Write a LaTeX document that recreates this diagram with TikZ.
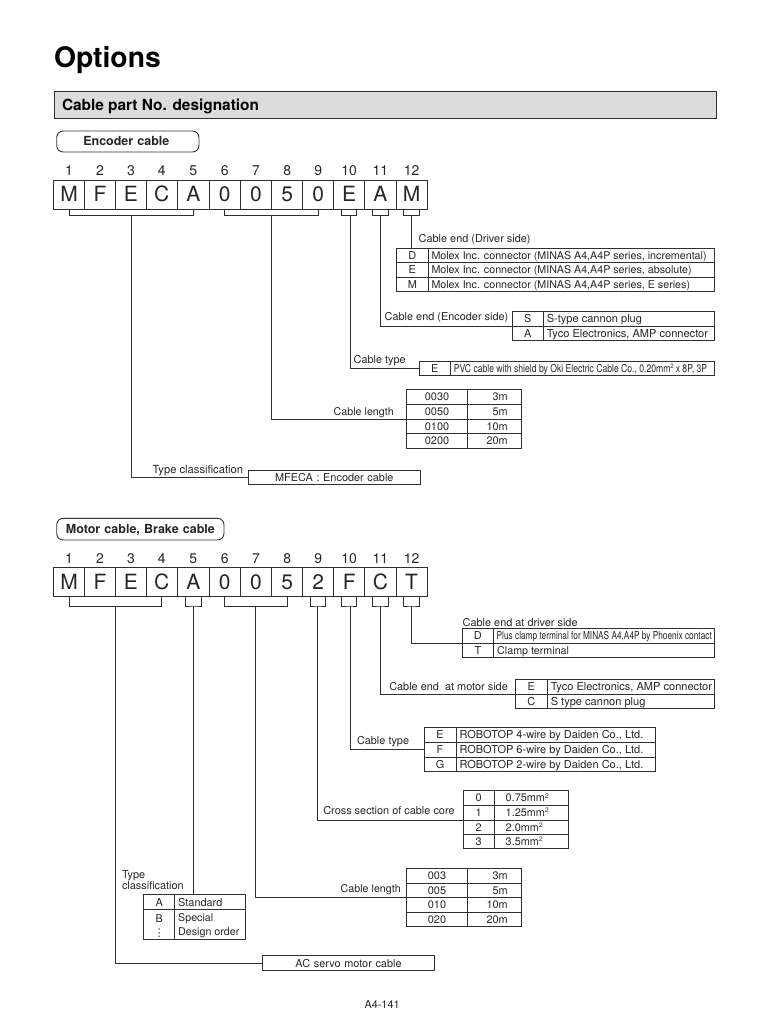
\documentclass[tikz,border=0pt]{standalone}
\usepackage{fontspec}
\usetikzlibrary{calc}
\setmainfont{TeX Gyre Heros}
\newfontfamily\symfont{DejaVu Sans}
\definecolor{ink}{HTML}{262626}
\definecolor{rule}{HTML}{303030}
\definecolor{hdr}{HTML}{DCDCDC}
\newcommand{\fs}[1]{\fontsize{#1}{#1}\selectfont}
\tikzset{
 cellst/.style={draw=rule,line width=0.9pt,rectangle,outer sep=0pt,inner ysep=0pt,inner xsep=3.5pt,text=ink,font=\fs{10.9},text height=7.7pt,text depth=0pt},
 ctr/.style={align=center},
 lft/.style={align=flush left},
 rgt/.style={align=flush right},
 free/.style={anchor=base west,inner sep=0pt,outer sep=0pt,text=ink,font=\fs{10.9}},
 wire/.style={draw=rule,line width=0.95pt},
 numlab/.style={inner sep=0pt,anchor=base,text=ink,font=\fs{14}},
 digit/.style={ctr,font=\fs{21},text height=14pt},
 pill/.style={rounded corners=6.5pt,font=\bfseries\fs{12.5},text height=9pt},
 molex/.style={lft,font=\fs{10.7}},
 tyco/.style={lft,font=\fs{11.05}},
 robo/.style={lft,font=\fs{11}},
 twolines/.style={text height=,text depth=,font=\fontsize{10.7}{14}\selectfont}
}
\newcommand{\cellbox}[7]{%
 \pgfmathsetmacro\cw{#3-#2-7}\pgfmathsetmacro\ch{#5-#4}%
 \pgfmathsetmacro\cx{(#2+#3)/2}\pgfmathsetmacro\cy{(#4+#5)/2}%
 \node[cellst,text width=\cw pt,minimum height=\ch pt,#6] (#1) at (\cx,\cy) {#7};}
\newcommand{\squeeze}[2]{\scalebox{#1}[1]{#2}}
\newcommand{\smallsq}{\raisebox{3.6pt}{\fs{6.6}2}}
\begin{document}
\begin{tikzpicture}[x=1pt,y=-1pt]
\useasboundingbox (0,0) rectangle (768,1024);
\node[free,font=\bfseries\fs{28.3},text=black] (title) at (54,67.6) {Options};
\cellbox{hd}{54.3}{716}{91.3}{118.7}{lft,fill=hdr,text=black,font=\bfseries\fs{15.4},text height=10.5pt}{\hspace{4.2pt}Cable part No. designation}
\cellbox{enc}{56.7}{199}{131}{152}{pill,ctr}{\hspace*{-3pt}Encoder cable}
\cellbox{mot}{56.7}{224}{518.3}{540}{pill,ctr}{Motor cable, Brake cable}

% encoder digits
\foreach \i/\a/\b/\t in {1/53.5/84.5/M,2/84.5/115.5/F,3/115.5/146.3/E,4/146.3/177.3/C,5/177.3/209.3/A,6/209.3/240.3/0,7/240.3/271.7/0,8/271.7/302.7/5,9/302.7/333.7/0,10/333.7/364.7/E,11/364.7/396/A,12/396/427.3/M}{
 \cellbox{d\i}{\a}{\b}{180}{209.3}{digit}{\t}
 \node[numlab] (dn\i) at ($(d\i.north)+(0,-4)$) {\i};
}
% motor digits
\foreach \i/\a/\b/\t in {1/53.5/84.5/M,2/84.5/115.5/F,3/115.5/146.3/E,4/146.3/177.3/C,5/177.3/209.3/A,6/209.3/240.3/0,7/240.3/271.7/0,8/271.7/302.7/5,9/302.7/333.7/2,10/333.7/364.7/F,11/364.7/396/C,12/396/427.3/T}{
 \cellbox{m\i}{\a}{\b}{567.3}{596.7}{digit}{\t}
 \node[numlab] (mn\i) at ($(m\i.north)+(0,-3.4)$) {\i};
}

% encoder tables
\cellbox{dD}{396.7}{428}{248.3}{262.7}{ctr}{D}
\cellbox{dDt}{428}{714.3}{248.3}{262.7}{molex}{Molex Inc. connector (MINAS A4,A4P series, incremental)}
\cellbox{dE}{396.7}{428}{262.7}{277.3}{ctr}{E}
\cellbox{dEt}{428}{714.3}{262.7}{277.3}{molex}{Molex Inc. connector (MINAS A4,A4P series, absolute)}
\cellbox{dM}{396.7}{428}{277.3}{291.7}{ctr}{M}
\cellbox{dMt}{428}{714.3}{277.3}{291.7}{molex}{Molex Inc. connector (MINAS A4,A4P series, E series)}
\cellbox{eS}{512}{543.3}{311.7}{326}{ctr}{S}
\cellbox{eSt}{543.3}{714.3}{311.7}{326}{tyco}{S-type cannon plug}
\cellbox{eA}{512}{543.3}{326}{340.3}{ctr}{A}
\cellbox{eAt}{543.3}{714.3}{326}{340.3}{tyco}{\mbox{Tyco Electronics, AMP connector}}
\cellbox{tE}{419}{450.3}{361.3}{375.7}{ctr}{E}
\cellbox{tEt}{450.3}{714.3}{361.3}{375.7}{lft}{\squeeze{0.79}{PVC cable with shield by Oki Electric Cable Co., 0.20mm\smallsq{} x 8P, 3P}}
\foreach \n/\a/\b/\t/\v in {1/389.3/404.3/0030/3m,2/404.3/419/0050/5m,3/419/433.7/0100/10m,4/433.7/448.3/0200/20m}{
 \cellbox{la\n}{406.7}{467.3}{\a}{\b}{ctr}{\t}
 \cellbox{lb\n}{467.3}{521.3}{\a}{\b}{rgt}{\v\hspace*{10pt}}
}
\cellbox{tc}{248.3}{420.3}{470.3}{484.7}{ctr}{MFECA : Encoder cable}

% motor tables
\cellbox{pD}{462}{493.7}{628.7}{643.3}{ctr}{D}
\cellbox{pDt}{493.7}{714.3}{628.7}{643.3}{lft}{\mbox{\hspace*{-0.5pt}\squeeze{0.76}{Plus clamp terminal for MINAS A4,A4P by Phoenix contact}}}
\cellbox{pT}{462}{493.7}{643.3}{657.7}{ctr}{T}
\cellbox{pTt}{493.7}{714.3}{643.3}{657.7}{molex}{Clamp terminal}
\cellbox{qE}{515.3}{547.3}{679.7}{694.3}{ctr}{E}
\cellbox{qEt}{547.3}{714.3}{679.7}{694.3}{tyco}{\mbox{Tyco Electronics, AMP connector}}
\cellbox{qC}{515.3}{547.3}{694.3}{708.7}{ctr}{C}
\cellbox{qCt}{547.3}{714.3}{694.3}{708.7}{tyco}{S type cannon plug}
\cellbox{rE}{424}{456}{727.7}{742.3}{ctr}{E}
\cellbox{rEt}{456}{655}{727.7}{742.3}{robo}{ROBOTOP 4-wire by Daiden Co., Ltd.}
\cellbox{rF}{424}{456}{742.3}{757}{ctr}{F}
\cellbox{rFt}{456}{655}{742.3}{757}{robo}{ROBOTOP 6-wire by Daiden Co., Ltd.}
\cellbox{rG}{424}{456}{757}{771.3}{ctr}{G}
\cellbox{rGt}{456}{655}{757}{771.3}{robo}{ROBOTOP 2-wire by Daiden Co., Ltd.}
\foreach \n/\a/\b/\t/\v in {1/790.3/805.3/0/0.75,2/805.3/820/1/1.25,3/820/834.7/2/2.0,4/834.7/848.7/3/3.5}{
 \cellbox{sa\n}{463}{494.3}{\a}{\b}{ctr}{\t}
 \cellbox{sb\n}{494.3}{568.3}{\a}{\b}{lft}{\hspace*{7.9pt}\v mm\smallsq}
}
\foreach \n/\a/\b/\t/\v in {1/868.3/883.3/003/3m,2/883.3/897.7/005/5m,3/897.7/912.3/010/10m,4/912.3/926.7/020/20m}{
 \cellbox{ua\n}{406.7}{467.3}{\a}{\b}{ctr}{\t}
 \cellbox{ub\n}{467.3}{521.3}{\a}{\b}{rgt}{\v\hspace*{10pt}}
}
\cellbox{cA}{143.7}{174.7}{894.7}{909.7}{ctr}{A}
\cellbox{cAt}{174.7}{245}{894.7}{909.7}{lft}{Standard}
\cellbox{cB}{143.7}{174.7}{909.7}{939}{ctr,twolines}{\rule{0pt}{11pt}B\\{\symfont ⋮}}
\cellbox{cBt}{174.7}{245}{909.7}{939}{lft,twolines}{\rule{0pt}{11pt}Special\\Design order}
\cellbox{ac}{262.7}{434.3}{955.7}{970.7}{ctr}{AC servo motor cable}

% free labels
\node[free] (l1) at (418.7,242.7) {Cable end (Driver side)};
\node[free] (l2) at (384.7,320.7) {Cable end (Encoder side)};
\node[free] (l3) at (353.7,363.7) {Cable type};
\node[free,font=\fs{10.7}] (l4) at (333.7,415) {Cable length};
\node[free,font=\fs{11.2}] (l5) at (152.7,473.3) {Type classification};
\node[free] (l6) at (462.7,626) {Cable end at driver side};
\node[free] (l7) at (389.3,690.3) {Cable end\ \ at motor side};
\node[free] (l8) at (357,744.7) {Cable type};
\node[free] (l9) at (323.3,814.3) {Cross section of cable core};
\node[free,font=\fs{10.7}] (l10) at (340.7,892.7) {Cable length};
\node[free] (l11) at (122,878.3) {Type};
\node[free] (l12) at (122,889.7) {classification};
\node[free] (pg) at (364.5,1008) {A4-141};

% encoder brackets and leaders
\coordinate (b1) at (131.7,215.7);
\coordinate (b2) at (271.7,215.7);
\coordinate (b3) at (350,215.7);
\coordinate (b4) at (380.7,215.7);
\coordinate (b5) at (411.7,215.7);
\draw[wire] (d1.south) -- (d1.south |- b1) -- (d5.south |- b1) -- (d5.south);
\draw[wire] (d6.south) -- (d6.south |- b2) -- (d9.south |- b2) -- (d9.south);
\draw[wire] ([xshift=-7.7pt]d10.south) |- (b3) -| ([xshift=7.7pt]d10.south);
\draw[wire] ([xshift=-7.7pt]d11.south) |- (b4) -| ([xshift=7.7pt]d11.south);
\draw[wire] ([xshift=-7.7pt]d12.south) |- (b5) -| ([xshift=7.7pt]d12.south);
\draw[wire] (b5) -- (b5 |- dD.north);
\draw[wire] (b4) |- (eS.south west);
\draw[wire] (b3) |- (tE.west);
\draw[wire] (b2) |- (la2.south west);
\draw[wire] (b1) |- (tc.west);

% motor brackets and leaders
\coordinate (c1) at (115.7,606);
\coordinate (c2) at (193.7,606);
\coordinate (c3) at (255.7,606);
\coordinate (c4) at (317.7,606);
\coordinate (c5) at (350,606);
\coordinate (c6) at (380.7,606);
\coordinate (c7) at (411.7,606);
\draw[wire] (m1.south) -- (m1.south |- c1) -- (m4.south |- c1) -- (m4.south);
\draw[wire] ([xshift=-7.7pt]m5.south) |- (c2) -| ([xshift=7.7pt]m5.south);
\draw[wire] (m6.south) -- (m6.south |- c3) -- (m8.south |- c3) -- (m8.south);
\draw[wire] ([xshift=-7.7pt]m9.south) |- (c4) -| ([xshift=7.7pt]m9.south);
\draw[wire] ([xshift=-7.7pt]m10.south) |- (c5) -| ([xshift=7.7pt]m10.south);
\draw[wire] ([xshift=-7.7pt]m11.south) |- (c6) -| ([xshift=7.7pt]m11.south);
\draw[wire] ([xshift=-7.7pt]m12.south) |- (c7) -| ([xshift=7.7pt]m12.south);
\draw[wire] (c7) |- (pD.south west);
\draw[wire] (c6) |- (qE.south west);
\draw[wire] (c5) |- (rF.west);
\draw[wire] (c4) |- (sa2.south west);
\draw[wire] (c3) |- (ua2.south west);
\draw[wire] (c2) -- (c2 |- cAt.north);
\draw[wire] (c1) |- (ac.west);
\end{tikzpicture}
\end{document}
